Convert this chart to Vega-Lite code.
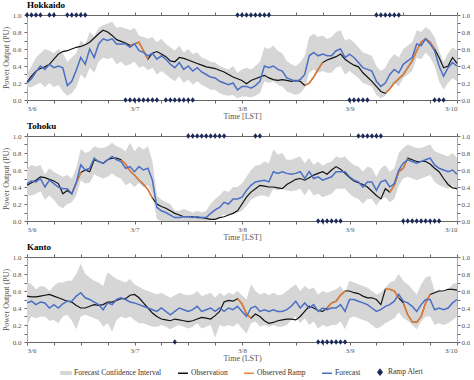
{
"$schema":"https://vega.github.io/schema/vega-lite/v6.json",
"padding":{"left":2,"right":0,"top":1,"bottom":0},
"datasets":{
"ts":[
{"r":"H","t":0,"o":0.21,"f":0.20,"l":0.15,"u":0.30},
{"r":"H","t":1,"o":0.28,"f":0.25,"l":0.15,"u":0.40},
{"r":"H","t":2,"o":0.34,"f":0.33,"l":0.18,"u":0.50},
{"r":"H","t":3,"o":0.37,"f":0.40,"l":0.20,"u":0.55},
{"r":"H","t":4,"o":0.39,"f":0.36,"l":0.15,"u":0.60},
{"r":"H","t":5,"o":0.42,"f":0.42,"l":0.20,"u":0.58},
{"r":"H","t":6,"o":0.48,"f":0.38,"l":0.15,"u":0.55},
{"r":"H","t":7,"o":0.54,"f":0.40,"l":0.18,"u":0.60},
{"r":"H","t":8,"o":0.57,"f":0.38,"l":0.10,"u":0.55},
{"r":"H","t":9,"o":0.58,"f":0.17,"l":0.05,"u":0.45},
{"r":"H","t":10,"o":0.60,"f":0.22,"l":0.08,"u":0.50},
{"r":"H","t":11,"o":0.62,"f":0.35,"l":0.15,"u":0.55},
{"r":"H","t":12,"o":0.63,"f":0.50,"l":0.30,"u":0.70},
{"r":"H","t":13,"o":0.65,"f":0.42,"l":0.25,"u":0.65},
{"r":"H","t":14,"o":0.68,"f":0.60,"l":0.38,"u":0.80},
{"r":"H","t":15,"o":0.73,"f":0.50,"l":0.32,"u":0.75},
{"r":"H","t":16,"o":0.78,"f":0.66,"l":0.45,"u":0.85},
{"r":"H","t":17,"o":0.82,"f":0.72,"l":0.50,"u":0.88},
{"r":"H","t":18,"o":0.80,"f":0.70,"l":0.48,"u":0.90},
{"r":"H","t":19,"o":0.76,"f":0.72,"l":0.50,"u":0.92},
{"r":"H","t":20,"o":0.71,"f":0.66,"l":0.42,"u":0.85},
{"r":"H","t":21,"o":0.69,"f":0.66,"l":0.45,"u":0.86},
{"r":"H","t":22,"o":0.67,"f":0.66,"l":0.40,"u":0.84},
{"r":"H","t":23,"o":0.64,"f":0.62,"l":0.42,"u":0.82,"g":"H1"},
{"r":"H","t":24,"o":0.66,"f":0.66,"l":0.45,"u":0.85,"g":"H1"},
{"r":"H","t":25,"o":0.68,"f":0.58,"l":0.38,"u":0.76,"g":"H1"},
{"r":"H","t":26,"o":0.58,"f":0.56,"l":0.40,"u":0.74,"g":"H1"},
{"r":"H","t":27,"o":0.48,"f":0.52,"l":0.35,"u":0.72,"g":"H1"},
{"r":"H","t":28,"o":0.55,"f":0.55,"l":0.38,"u":0.74},
{"r":"H","t":29,"o":0.57,"f":0.48,"l":0.30,"u":0.68},
{"r":"H","t":30,"o":0.54,"f":0.52,"l":0.34,"u":0.72},
{"r":"H","t":31,"o":0.51,"f":0.48,"l":0.30,"u":0.66},
{"r":"H","t":32,"o":0.46,"f":0.42,"l":0.26,"u":0.62},
{"r":"H","t":33,"o":0.45,"f":0.38,"l":0.22,"u":0.58},
{"r":"H","t":34,"o":0.50,"f":0.44,"l":0.28,"u":0.64},
{"r":"H","t":35,"o":0.49,"f":0.36,"l":0.20,"u":0.56},
{"r":"H","t":36,"o":0.47,"f":0.40,"l":0.24,"u":0.60},
{"r":"H","t":37,"o":0.45,"f":0.34,"l":0.18,"u":0.54},
{"r":"H","t":38,"o":0.43,"f":0.38,"l":0.22,"u":0.56},
{"r":"H","t":39,"o":0.41,"f":0.33,"l":0.18,"u":0.50},
{"r":"H","t":40,"o":0.39,"f":0.30,"l":0.15,"u":0.48},
{"r":"H","t":41,"o":0.38,"f":0.27,"l":0.12,"u":0.45},
{"r":"H","t":42,"o":0.37,"f":0.26,"l":0.12,"u":0.44},
{"r":"H","t":43,"o":0.35,"f":0.22,"l":0.08,"u":0.40},
{"r":"H","t":44,"o":0.33,"f":0.20,"l":0.06,"u":0.38},
{"r":"H","t":45,"o":0.30,"f":0.18,"l":0.05,"u":0.36},
{"r":"H","t":46,"o":0.27,"f":0.20,"l":0.06,"u":0.40},
{"r":"H","t":47,"o":0.25,"f":0.12,"l":0.02,"u":0.32},
{"r":"H","t":48,"o":0.23,"f":0.16,"l":0.04,"u":0.36},
{"r":"H","t":49,"o":0.19,"f":0.16,"l":0.04,"u":0.38},
{"r":"H","t":50,"o":0.23,"f":0.14,"l":0.03,"u":0.36},
{"r":"H","t":51,"o":0.25,"f":0.17,"l":0.05,"u":0.40},
{"r":"H","t":52,"o":0.27,"f":0.22,"l":0.08,"u":0.45},
{"r":"H","t":53,"o":0.29,"f":0.40,"l":0.22,"u":0.62},
{"r":"H","t":54,"o":0.26,"f":0.38,"l":0.20,"u":0.60},
{"r":"H","t":55,"o":0.24,"f":0.40,"l":0.22,"u":0.64},
{"r":"H","t":56,"o":0.23,"f":0.36,"l":0.18,"u":0.58},
{"r":"H","t":57,"o":0.24,"f":0.34,"l":0.16,"u":0.55},
{"r":"H","t":58,"o":0.23,"f":0.26,"l":0.10,"u":0.46},
{"r":"H","t":59,"o":0.22,"f":0.24,"l":0.08,"u":0.42},
{"r":"H","t":60,"o":0.23,"f":0.22,"l":0.06,"u":0.40},
{"r":"H","t":61,"o":0.22,"f":0.24,"l":0.08,"u":0.44},
{"r":"H","t":62,"o":0.17,"f":0.30,"l":0.14,"u":0.52,"g":"H2"},
{"r":"H","t":63,"o":0.20,"f":0.52,"l":0.32,"u":0.74,"g":"H2"},
{"r":"H","t":64,"o":0.27,"f":0.56,"l":0.36,"u":0.78,"g":"H2"},
{"r":"H","t":65,"o":0.36,"f":0.52,"l":0.32,"u":0.74,"g":"H2"},
{"r":"H","t":66,"o":0.44,"f":0.54,"l":0.34,"u":0.76,"g":"H2"},
{"r":"H","t":67,"o":0.47,"f":0.52,"l":0.32,"u":0.72},
{"r":"H","t":68,"o":0.49,"f":0.52,"l":0.32,"u":0.74},
{"r":"H","t":69,"o":0.51,"f":0.58,"l":0.38,"u":0.80},
{"r":"H","t":70,"o":0.54,"f":0.60,"l":0.40,"u":0.82},
{"r":"H","t":71,"o":0.48,"f":0.50,"l":0.30,"u":0.70},
{"r":"H","t":72,"o":0.44,"f":0.54,"l":0.34,"u":0.72},
{"r":"H","t":73,"o":0.41,"f":0.50,"l":0.30,"u":0.68},
{"r":"H","t":74,"o":0.39,"f":0.44,"l":0.26,"u":0.62},
{"r":"H","t":75,"o":0.32,"f":0.38,"l":0.20,"u":0.56},
{"r":"H","t":76,"o":0.27,"f":0.36,"l":0.18,"u":0.54},
{"r":"H","t":77,"o":0.22,"f":0.34,"l":0.16,"u":0.52},
{"r":"H","t":78,"o":0.16,"f":0.22,"l":0.06,"u":0.40},
{"r":"H","t":79,"o":0.10,"f":0.16,"l":0.02,"u":0.34},
{"r":"H","t":80,"o":0.08,"f":0.20,"l":0.05,"u":0.38,"g":"H3"},
{"r":"H","t":81,"o":0.13,"f":0.30,"l":0.14,"u":0.48,"g":"H3"},
{"r":"H","t":82,"o":0.20,"f":0.36,"l":0.20,"u":0.54,"g":"H3"},
{"r":"H","t":83,"o":0.25,"f":0.32,"l":0.16,"u":0.50,"g":"H3"},
{"r":"H","t":84,"o":0.30,"f":0.42,"l":0.26,"u":0.60,"g":"H3"},
{"r":"H","t":85,"o":0.38,"f":0.46,"l":0.30,"u":0.64,"g":"H3"},
{"r":"H","t":86,"o":0.46,"f":0.50,"l":0.34,"u":0.68,"g":"H3"},
{"r":"H","t":87,"o":0.58,"f":0.66,"l":0.50,"u":0.82,"g":"H3"},
{"r":"H","t":88,"o":0.68,"f":0.64,"l":0.48,"u":0.80,"g":"H3"},
{"r":"H","t":89,"o":0.72,"f":0.72,"l":0.56,"u":0.86,"g":"H3"},
{"r":"H","t":90,"o":0.68,"f":0.66,"l":0.50,"u":0.82,"g":"H3"},
{"r":"H","t":91,"o":0.60,"f":0.58,"l":0.40,"u":0.74,"g":"H3"},
{"r":"H","t":92,"o":0.50,"f":0.40,"l":0.22,"u":0.58},
{"r":"H","t":93,"o":0.38,"f":0.28,"l":0.12,"u":0.45},
{"r":"H","t":94,"o":0.40,"f":0.38,"l":0.20,"u":0.55},
{"r":"H","t":95,"o":0.50,"f":0.44,"l":0.26,"u":0.62},
{"r":"H","t":96,"o":0.43,"f":0.40,"l":0.22,"u":0.58},
{"r":"T","t":0,"o":0.42,"f":0.44,"l":0.30,"u":0.62},
{"r":"T","t":1,"o":0.45,"f":0.47,"l":0.30,"u":0.66},
{"r":"T","t":2,"o":0.48,"f":0.46,"l":0.32,"u":0.64},
{"r":"T","t":3,"o":0.52,"f":0.50,"l":0.35,"u":0.66},
{"r":"T","t":4,"o":0.51,"f":0.40,"l":0.25,"u":0.55},
{"r":"T","t":5,"o":0.49,"f":0.48,"l":0.30,"u":0.62},
{"r":"T","t":6,"o":0.47,"f":0.44,"l":0.25,"u":0.58},
{"r":"T","t":7,"o":0.44,"f":0.40,"l":0.18,"u":0.55},
{"r":"T","t":8,"o":0.32,"f":0.38,"l":0.15,"u":0.52},
{"r":"T","t":9,"o":0.36,"f":0.38,"l":0.20,"u":0.54},
{"r":"T","t":10,"o":0.32,"f":0.32,"l":0.22,"u":0.50,"g":"T1"},
{"r":"T","t":11,"o":0.45,"f":0.45,"l":0.30,"u":0.62,"g":"T1"},
{"r":"T","t":12,"o":0.57,"f":0.66,"l":0.48,"u":0.85,"g":"T1"},
{"r":"T","t":13,"o":0.60,"f":0.60,"l":0.44,"u":0.80},
{"r":"T","t":14,"o":0.58,"f":0.62,"l":0.45,"u":0.82},
{"r":"T","t":15,"o":0.72,"f":0.74,"l":0.55,"u":0.88},
{"r":"T","t":16,"o":0.70,"f":0.70,"l":0.52,"u":0.86},
{"r":"T","t":17,"o":0.68,"f":0.68,"l":0.50,"u":0.86},
{"r":"T","t":18,"o":0.72,"f":0.72,"l":0.52,"u":0.88},
{"r":"T","t":19,"o":0.74,"f":0.76,"l":0.56,"u":0.92},
{"r":"T","t":20,"o":0.74,"f":0.72,"l":0.52,"u":0.88},
{"r":"T","t":21,"o":0.72,"f":0.70,"l":0.50,"u":0.86,"g":"T2"},
{"r":"T","t":22,"o":0.67,"f":0.62,"l":0.42,"u":0.82,"g":"T2"},
{"r":"T","t":23,"o":0.59,"f":0.64,"l":0.45,"u":0.92,"g":"T2"},
{"r":"T","t":24,"o":0.54,"f":0.58,"l":0.40,"u":0.82,"g":"T2"},
{"r":"T","t":25,"o":0.48,"f":0.64,"l":0.45,"u":0.88,"g":"T2"},
{"r":"T","t":26,"o":0.43,"f":0.60,"l":0.40,"u":0.84,"g":"T2"},
{"r":"T","t":27,"o":0.37,"f":0.62,"l":0.42,"u":0.88,"g":"T2"},
{"r":"T","t":28,"o":0.27,"f":0.48,"l":0.32,"u":0.70,"g":"T2"},
{"r":"T","t":29,"o":0.20,"f":0.16,"l":0.02,"u":0.30},
{"r":"T","t":30,"o":0.17,"f":0.12,"l":0.00,"u":0.25},
{"r":"T","t":31,"o":0.15,"f":0.10,"l":0.00,"u":0.22},
{"r":"T","t":32,"o":0.12,"f":0.07,"l":0.00,"u":0.20},
{"r":"T","t":33,"o":0.09,"f":0.04,"l":0.00,"u":0.12},
{"r":"T","t":34,"o":0.07,"f":0.04,"l":0.00,"u":0.12},
{"r":"T","t":35,"o":0.05,"f":0.05,"l":0.00,"u":0.14},
{"r":"T","t":36,"o":0.05,"f":0.05,"l":0.00,"u":0.12},
{"r":"T","t":37,"o":0.05,"f":0.04,"l":0.00,"u":0.10},
{"r":"T","t":38,"o":0.04,"f":0.05,"l":0.00,"u":0.12},
{"r":"T","t":39,"o":0.04,"f":0.04,"l":0.00,"u":0.10},
{"r":"T","t":40,"o":0.03,"f":0.04,"l":0.00,"u":0.12},
{"r":"T","t":41,"o":0.02,"f":0.09,"l":0.01,"u":0.20},
{"r":"T","t":42,"o":0.02,"f":0.13,"l":0.03,"u":0.26},
{"r":"T","t":43,"o":0.04,"f":0.16,"l":0.05,"u":0.30},
{"r":"T","t":44,"o":0.05,"f":0.22,"l":0.08,"u":0.36},
{"r":"T","t":45,"o":0.07,"f":0.20,"l":0.06,"u":0.34},
{"r":"T","t":46,"o":0.09,"f":0.26,"l":0.10,"u":0.40},
{"r":"T","t":47,"o":0.12,"f":0.26,"l":0.10,"u":0.40},
{"r":"T","t":48,"o":0.20,"f":0.28,"l":0.12,"u":0.44},
{"r":"T","t":49,"o":0.28,"f":0.36,"l":0.18,"u":0.52},
{"r":"T","t":50,"o":0.34,"f":0.42,"l":0.25,"u":0.60},
{"r":"T","t":51,"o":0.38,"f":0.46,"l":0.28,"u":0.65},
{"r":"T","t":52,"o":0.42,"f":0.47,"l":0.30,"u":0.66},
{"r":"T","t":53,"o":0.41,"f":0.48,"l":0.30,"u":0.70},
{"r":"T","t":54,"o":0.40,"f":0.46,"l":0.28,"u":0.68},
{"r":"T","t":55,"o":0.40,"f":0.58,"l":0.38,"u":0.84},
{"r":"T","t":56,"o":0.39,"f":0.56,"l":0.36,"u":0.78},
{"r":"T","t":57,"o":0.38,"f":0.58,"l":0.38,"u":0.80},
{"r":"T","t":58,"o":0.43,"f":0.56,"l":0.36,"u":0.72},
{"r":"T","t":59,"o":0.46,"f":0.55,"l":0.35,"u":0.72},
{"r":"T","t":60,"o":0.49,"f":0.56,"l":0.36,"u":0.74},
{"r":"T","t":61,"o":0.50,"f":0.58,"l":0.38,"u":0.76},
{"r":"T","t":62,"o":0.48,"f":0.50,"l":0.30,"u":0.68},
{"r":"T","t":63,"o":0.51,"f":0.58,"l":0.38,"u":0.74},
{"r":"T","t":64,"o":0.54,"f":0.50,"l":0.30,"u":0.66},
{"r":"T","t":65,"o":0.56,"f":0.52,"l":0.32,"u":0.70},
{"r":"T","t":66,"o":0.58,"f":0.48,"l":0.28,"u":0.65},
{"r":"T","t":67,"o":0.55,"f":0.50,"l":0.30,"u":0.68},
{"r":"T","t":68,"o":0.60,"f":0.52,"l":0.32,"u":0.70},
{"r":"T","t":69,"o":0.64,"f":0.58,"l":0.38,"u":0.76},
{"r":"T","t":70,"o":0.61,"f":0.58,"l":0.38,"u":0.74},
{"r":"T","t":71,"o":0.56,"f":0.58,"l":0.38,"u":0.76},
{"r":"T","t":72,"o":0.51,"f":0.52,"l":0.32,"u":0.70},
{"r":"T","t":73,"o":0.47,"f":0.48,"l":0.28,"u":0.66},
{"r":"T","t":74,"o":0.45,"f":0.46,"l":0.26,"u":0.64},
{"r":"T","t":75,"o":0.43,"f":0.40,"l":0.20,"u":0.58},
{"r":"T","t":76,"o":0.40,"f":0.46,"l":0.26,"u":0.64},
{"r":"T","t":77,"o":0.35,"f":0.46,"l":0.26,"u":0.62},
{"r":"T","t":78,"o":0.30,"f":0.36,"l":0.18,"u":0.52},
{"r":"T","t":79,"o":0.26,"f":0.46,"l":0.26,"u":0.62},
{"r":"T","t":80,"o":0.38,"f":0.48,"l":0.28,"u":0.66},
{"r":"T","t":81,"o":0.34,"f":0.40,"l":0.22,"u":0.58,"g":"T3"},
{"r":"T","t":82,"o":0.42,"f":0.44,"l":0.26,"u":0.62,"g":"T3"},
{"r":"T","t":83,"o":0.58,"f":0.60,"l":0.42,"u":0.80,"g":"T3"},
{"r":"T","t":84,"o":0.62,"f":0.68,"l":0.50,"u":0.86,"g":"T3"},
{"r":"T","t":85,"o":0.74,"f":0.72,"l":0.52,"u":0.90,"g":"T3"},
{"r":"T","t":86,"o":0.72,"f":0.70,"l":0.50,"u":0.88},
{"r":"T","t":87,"o":0.70,"f":0.68,"l":0.48,"u":0.86},
{"r":"T","t":88,"o":0.70,"f":0.70,"l":0.50,"u":0.86},
{"r":"T","t":89,"o":0.70,"f":0.72,"l":0.52,"u":0.88},
{"r":"T","t":90,"o":0.67,"f":0.74,"l":0.54,"u":0.90},
{"r":"T","t":91,"o":0.62,"f":0.66,"l":0.46,"u":0.82},
{"r":"T","t":92,"o":0.58,"f":0.62,"l":0.42,"u":0.80},
{"r":"T","t":93,"o":0.50,"f":0.60,"l":0.40,"u":0.78},
{"r":"T","t":94,"o":0.43,"f":0.58,"l":0.38,"u":0.76},
{"r":"T","t":95,"o":0.39,"f":0.60,"l":0.42,"u":0.80},
{"r":"T","t":96,"o":0.38,"f":0.55,"l":0.36,"u":0.74},
{"r":"K","t":0,"o":0.54,"f":0.46,"l":0.20,"u":0.70},
{"r":"K","t":1,"o":0.53,"f":0.48,"l":0.30,"u":0.68},
{"r":"K","t":2,"o":0.53,"f":0.44,"l":0.28,"u":0.62},
{"r":"K","t":3,"o":0.54,"f":0.47,"l":0.30,"u":0.66},
{"r":"K","t":4,"o":0.55,"f":0.46,"l":0.30,"u":0.65},
{"r":"K","t":5,"o":0.56,"f":0.40,"l":0.25,"u":0.60},
{"r":"K","t":6,"o":0.54,"f":0.44,"l":0.26,"u":0.66},
{"r":"K","t":7,"o":0.52,"f":0.40,"l":0.22,"u":0.70},
{"r":"K","t":8,"o":0.50,"f":0.45,"l":0.30,"u":0.70},
{"r":"K","t":9,"o":0.48,"f":0.48,"l":0.32,"u":0.72},
{"r":"K","t":10,"o":0.47,"f":0.48,"l":0.25,"u":0.72},
{"r":"K","t":11,"o":0.43,"f":0.54,"l":0.15,"u":0.80},
{"r":"K","t":12,"o":0.40,"f":0.58,"l":0.30,"u":0.92},
{"r":"K","t":13,"o":0.40,"f":0.52,"l":0.32,"u":0.80},
{"r":"K","t":14,"o":0.42,"f":0.50,"l":0.30,"u":0.76},
{"r":"K","t":15,"o":0.44,"f":0.47,"l":0.28,"u":0.72},
{"r":"K","t":16,"o":0.43,"f":0.44,"l":0.26,"u":0.70},
{"r":"K","t":17,"o":0.44,"f":0.38,"l":0.18,"u":0.66},
{"r":"K","t":18,"o":0.47,"f":0.46,"l":0.22,"u":0.82},
{"r":"K","t":19,"o":0.47,"f":0.44,"l":0.12,"u":0.78},
{"r":"K","t":20,"o":0.49,"f":0.50,"l":0.26,"u":0.74},
{"r":"K","t":21,"o":0.51,"f":0.52,"l":0.30,"u":0.72},
{"r":"K","t":22,"o":0.51,"f":0.50,"l":0.28,"u":0.70},
{"r":"K","t":23,"o":0.55,"f":0.47,"l":0.30,"u":0.74},
{"r":"K","t":24,"o":0.56,"f":0.46,"l":0.26,"u":0.68},
{"r":"K","t":25,"o":0.52,"f":0.44,"l":0.22,"u":0.65},
{"r":"K","t":26,"o":0.46,"f":0.42,"l":0.22,"u":0.62},
{"r":"K","t":27,"o":0.40,"f":0.40,"l":0.20,"u":0.60},
{"r":"K","t":28,"o":0.34,"f":0.38,"l":0.18,"u":0.58},
{"r":"K","t":29,"o":0.30,"f":0.36,"l":0.18,"u":0.56},
{"r":"K","t":30,"o":0.27,"f":0.40,"l":0.20,"u":0.58},
{"r":"K","t":31,"o":0.26,"f":0.36,"l":0.18,"u":0.55},
{"r":"K","t":32,"o":0.25,"f":0.32,"l":0.15,"u":0.52},
{"r":"K","t":33,"o":0.27,"f":0.36,"l":0.18,"u":0.55},
{"r":"K","t":34,"o":0.26,"f":0.40,"l":0.20,"u":0.58},
{"r":"K","t":35,"o":0.25,"f":0.38,"l":0.18,"u":0.56},
{"r":"K","t":36,"o":0.24,"f":0.36,"l":0.16,"u":0.55},
{"r":"K","t":37,"o":0.25,"f":0.38,"l":0.18,"u":0.56},
{"r":"K","t":38,"o":0.27,"f":0.42,"l":0.22,"u":0.60},
{"r":"K","t":39,"o":0.29,"f":0.36,"l":0.16,"u":0.54},
{"r":"K","t":40,"o":0.28,"f":0.38,"l":0.18,"u":0.56},
{"r":"K","t":41,"o":0.27,"f":0.40,"l":0.20,"u":0.58},
{"r":"K","t":42,"o":0.31,"f":0.36,"l":0.05,"u":0.52},
{"r":"K","t":43,"o":0.36,"f":0.40,"l":0.20,"u":0.58},
{"r":"K","t":44,"o":0.47,"f":0.36,"l":0.18,"u":0.54},
{"r":"K","t":45,"o":0.49,"f":0.40,"l":0.20,"u":0.58},
{"r":"K","t":46,"o":0.48,"f":0.38,"l":0.18,"u":0.56},
{"r":"K","t":47,"o":0.51,"f":0.42,"l":0.22,"u":0.60,"g":"K1"},
{"r":"K","t":48,"o":0.45,"f":0.36,"l":0.16,"u":0.55,"g":"K1"},
{"r":"K","t":49,"o":0.33,"f":0.30,"l":0.10,"u":0.50,"g":"K1"},
{"r":"K","t":50,"o":0.28,"f":0.40,"l":0.22,"u":0.68,"g":"K1"},
{"r":"K","t":51,"o":0.33,"f":0.42,"l":0.24,"u":0.60},
{"r":"K","t":52,"o":0.30,"f":0.36,"l":0.18,"u":0.56},
{"r":"K","t":53,"o":0.25,"f":0.38,"l":0.20,"u":0.58},
{"r":"K","t":54,"o":0.22,"f":0.36,"l":0.18,"u":0.55},
{"r":"K","t":55,"o":0.23,"f":0.38,"l":0.20,"u":0.58},
{"r":"K","t":56,"o":0.25,"f":0.36,"l":0.18,"u":0.55},
{"r":"K","t":57,"o":0.26,"f":0.36,"l":0.18,"u":0.56},
{"r":"K","t":58,"o":0.27,"f":0.38,"l":0.20,"u":0.60},
{"r":"K","t":59,"o":0.27,"f":0.42,"l":0.26,"u":0.64},
{"r":"K","t":60,"o":0.26,"f":0.48,"l":0.30,"u":0.68},
{"r":"K","t":61,"o":0.30,"f":0.40,"l":0.22,"u":0.60},
{"r":"K","t":62,"o":0.36,"f":0.46,"l":0.28,"u":0.66},
{"r":"K","t":63,"o":0.42,"f":0.40,"l":0.20,"u":0.62},
{"r":"K","t":64,"o":0.40,"f":0.44,"l":0.24,"u":0.64},
{"r":"K","t":65,"o":0.37,"f":0.36,"l":0.16,"u":0.56},
{"r":"K","t":66,"o":0.36,"f":0.40,"l":0.20,"u":0.60},
{"r":"K","t":67,"o":0.40,"f":0.38,"l":0.18,"u":0.58,"g":"K2"},
{"r":"K","t":68,"o":0.46,"f":0.40,"l":0.20,"u":0.60,"g":"K2"},
{"r":"K","t":69,"o":0.48,"f":0.40,"l":0.20,"u":0.62,"g":"K2"},
{"r":"K","t":70,"o":0.55,"f":0.44,"l":0.24,"u":0.66,"g":"K2"},
{"r":"K","t":71,"o":0.60,"f":0.36,"l":0.15,"u":0.58,"g":"K2"},
{"r":"K","t":72,"o":0.60,"f":0.50,"l":0.28,"u":0.72},
{"r":"K","t":73,"o":0.58,"f":0.50,"l":0.30,"u":0.70},
{"r":"K","t":74,"o":0.57,"f":0.48,"l":0.28,"u":0.68},
{"r":"K","t":75,"o":0.54,"f":0.46,"l":0.26,"u":0.66},
{"r":"K","t":76,"o":0.52,"f":0.44,"l":0.24,"u":0.64},
{"r":"K","t":77,"o":0.52,"f":0.40,"l":0.20,"u":0.60},
{"r":"K","t":78,"o":0.50,"f":0.36,"l":0.16,"u":0.56},
{"r":"K","t":79,"o":0.44,"f":0.38,"l":0.18,"u":0.58},
{"r":"K","t":80,"o":0.62,"f":0.42,"l":0.22,"u":0.64,"g":"K3"},
{"r":"K","t":81,"o":0.62,"f":0.44,"l":0.25,"u":0.70,"g":"K3"},
{"r":"K","t":82,"o":0.60,"f":0.48,"l":0.28,"u":0.72,"g":"K3"},
{"r":"K","t":83,"o":0.52,"f":0.56,"l":0.35,"u":0.80,"g":"K3"},
{"r":"K","t":84,"o":0.46,"f":0.48,"l":0.28,"u":0.72,"g":"K4"},
{"r":"K","t":85,"o":0.32,"f":0.46,"l":0.25,"u":0.68,"g":"K4"},
{"r":"K","t":86,"o":0.24,"f":0.42,"l":0.20,"u":0.62,"g":"K4"},
{"r":"K","t":87,"o":0.23,"f":0.36,"l":0.15,"u":0.56,"g":"K4"},
{"r":"K","t":88,"o":0.30,"f":0.44,"l":0.24,"u":0.68,"g":"K4"},
{"r":"K","t":89,"o":0.46,"f":0.50,"l":0.30,"u":0.76,"g":"K4"},
{"r":"K","t":90,"o":0.56,"f":0.50,"l":0.30,"u":0.78,"g":"K4"},
{"r":"K","t":91,"o":0.58,"f":0.38,"l":0.20,"u":0.60},
{"r":"K","t":92,"o":0.60,"f":0.40,"l":0.22,"u":0.62},
{"r":"K","t":93,"o":0.60,"f":0.38,"l":0.20,"u":0.58},
{"r":"K","t":94,"o":0.62,"f":0.40,"l":0.22,"u":0.62},
{"r":"K","t":95,"o":0.62,"f":0.46,"l":0.26,"u":0.68},
{"r":"K","t":96,"o":0.61,"f":0.50,"l":0.30,"u":0.70}
],
"al":[
{"r":"H","t":0,"y":1},{"r":"H","t":1,"y":1},{"r":"H","t":2,"y":1},{"r":"H","t":3,"y":1},
{"r":"H","t":5,"y":1},{"r":"H","t":6,"y":1},
{"r":"H","t":9,"y":1},{"r":"H","t":10,"y":1},{"r":"H","t":11,"y":1},{"r":"H","t":12,"y":1},{"r":"H","t":13,"y":1},
{"r":"H","t":47,"y":1},{"r":"H","t":48,"y":1},{"r":"H","t":49,"y":1},{"r":"H","t":50,"y":1},{"r":"H","t":51,"y":1},{"r":"H","t":52,"y":1},{"r":"H","t":53,"y":1},{"r":"H","t":54,"y":1},
{"r":"H","t":78,"y":1},{"r":"H","t":79,"y":1},{"r":"H","t":80,"y":1},{"r":"H","t":81,"y":1},{"r":"H","t":82,"y":1},{"r":"H","t":83,"y":1},
{"r":"H","t":22,"y":0},{"r":"H","t":23,"y":0},{"r":"H","t":24,"y":0},{"r":"H","t":25,"y":0},{"r":"H","t":26,"y":0},{"r":"H","t":27,"y":0},{"r":"H","t":28,"y":0},{"r":"H","t":29,"y":0},
{"r":"H","t":31,"y":0},{"r":"H","t":32,"y":0},{"r":"H","t":33,"y":0},{"r":"H","t":34,"y":0},{"r":"H","t":35,"y":0},{"r":"H","t":36,"y":0},{"r":"H","t":37,"y":0},
{"r":"H","t":72,"y":0},{"r":"H","t":73,"y":0},{"r":"H","t":74,"y":0},{"r":"H","t":75,"y":0},{"r":"H","t":76,"y":0},
{"r":"H","t":91,"y":0},{"r":"H","t":92,"y":0},{"r":"H","t":93,"y":0},
{"r":"T","t":36,"y":1},{"r":"T","t":37,"y":1},{"r":"T","t":38,"y":1},{"r":"T","t":39,"y":1},{"r":"T","t":40,"y":1},{"r":"T","t":41,"y":1},{"r":"T","t":42,"y":1},{"r":"T","t":43,"y":1},{"r":"T","t":44,"y":1},
{"r":"T","t":51,"y":1},{"r":"T","t":52,"y":1},
{"r":"T","t":74,"y":1},{"r":"T","t":75,"y":1},{"r":"T","t":76,"y":1},{"r":"T","t":77,"y":1},{"r":"T","t":78,"y":1},{"r":"T","t":79,"y":1},
{"r":"T","t":65,"y":0},{"r":"T","t":66,"y":0},{"r":"T","t":67,"y":0},{"r":"T","t":68,"y":0},{"r":"T","t":69,"y":0},{"r":"T","t":70,"y":0},
{"r":"T","t":84,"y":0},{"r":"T","t":85,"y":0},{"r":"T","t":86,"y":0},{"r":"T","t":87,"y":0},{"r":"T","t":88,"y":0},{"r":"T","t":89,"y":0},{"r":"T","t":90,"y":0},{"r":"T","t":91,"y":0},{"r":"T","t":92,"y":0},
{"r":"K","t":33,"y":0},
{"r":"K","t":65,"y":0},{"r":"K","t":66,"y":0},{"r":"K","t":67,"y":0},{"r":"K","t":68,"y":0},{"r":"K","t":69,"y":0},{"r":"K","t":70,"y":0},{"r":"K","t":71,"y":0}
]
},
"vconcat":[
{"width":430,"height":85,"title":{"text":"Hokkaido"},
 "layer":[
  {"data":{"name":"ts"},"transform":[{"filter":"datum.r==='H'"}],"mark":{"type":"area"},
   "encoding":{
    "x":{"field":"t","type":"quantitative","scale":{"domain":[0,96],"nice":false},"axis":{"orient":"bottom","values":[0,6,12,18,24,30,36,42,48,54,60,66,72,78,84,90,96],"labelExpr":"datum.value % 24 === 0 ? '3/' + (6 + datum.value/24) : ''","title":"Time [LST]"}},
    "y":{"field":"l","type":"quantitative","scale":{"domain":[0,1],"nice":false},"axis":{"orient":"left","values":[0,0.1,0.2,0.3,0.4,0.5,0.6,0.7,0.8,0.9,1],"labelExpr":"round(datum.value*10) % 2 === 0 ? format(datum.value, '.1f') : ''","title":"Power Output (PU)"}},
    "y2":{"field":"u"},
    "color":{"datum":"Forecast Confidence Interval","scale":{"domain":["Forecast Confidence Interval","Observation","Observed Ramp","Forecast","Ramp Alert"],"range":["#d6d6d6","#111111","#e8823a","#4a6fc4","#1c2a5a"]}}}},
  {"data":{"name":"ts"},"transform":[{"filter":"datum.r==='H'"}],"mark":{"type":"line","strokeWidth":1.2},
   "encoding":{
    "x":{"field":"t","type":"quantitative","axis":{"orient":"top","values":[0,6,12,18,24,30,36,42,48,54,60,66,72,78,84,90,96],"labels":false,"title":null}},
    "y":{"field":"o","type":"quantitative","axis":{"orient":"right","values":[0,0.1,0.2,0.3,0.4,0.5,0.6,0.7,0.8,0.9,1],"labelExpr":"round(datum.value*10) % 2 === 0 ? format(datum.value, '.1f') : ''","title":null,"labelPadding":1}},
    "color":{"datum":"Observation"}}},
  {"data":{"name":"ts"},"transform":[{"filter":"datum.r==='H' && isValid(datum.g)"}],"mark":{"type":"line","strokeWidth":1.5},
   "encoding":{
    "x":{"field":"t","type":"quantitative","axis":null},
    "y":{"field":"o","type":"quantitative","axis":null},
    "detail":{"field":"g"},
    "color":{"datum":"Observed Ramp"}}},
  {"data":{"name":"ts"},"transform":[{"filter":"datum.r==='H'"}],"mark":{"type":"line","strokeWidth":1.5},
   "encoding":{
    "x":{"field":"t","type":"quantitative","axis":null},
    "y":{"field":"f","type":"quantitative","axis":null},
    "color":{"datum":"Forecast"}}},
  {"data":{"name":"al"},"transform":[{"filter":"datum.r==='H'"}],"mark":{"type":"point","filled":true,"opacity":1,"size":100},
   "encoding":{
    "x":{"field":"t","type":"quantitative","axis":null},
    "y":{"field":"y","type":"quantitative","axis":null},
    "color":{"datum":"Ramp Alert"},
    "shape":{"datum":"Ramp Alert","scale":{"domain":["Forecast Confidence Interval","Observation","Observed Ramp","Forecast","Ramp Alert"],"range":["M-1,-0.25H1V0.25H-1Z","stroke","stroke","stroke","M0,-0.55L0.42,0L0,0.55L-0.42,0Z"]}}}}
 ]},
{"width":430,"height":85,"title":{"text":"Tohoku"},
 "layer":[
  {"data":{"name":"ts"},"transform":[{"filter":"datum.r==='T'"}],"mark":{"type":"area"},
   "encoding":{
    "x":{"field":"t","type":"quantitative","scale":{"domain":[0,96],"nice":false},"axis":{"orient":"bottom","values":[0,6,12,18,24,30,36,42,48,54,60,66,72,78,84,90,96],"labelExpr":"datum.value % 24 === 0 ? '3/' + (6 + datum.value/24) : ''","title":"Time [LST]"}},
    "y":{"field":"l","type":"quantitative","scale":{"domain":[0,1],"nice":false},"axis":{"orient":"left","values":[0,0.1,0.2,0.3,0.4,0.5,0.6,0.7,0.8,0.9,1],"labelExpr":"round(datum.value*10) % 2 === 0 ? format(datum.value, '.1f') : ''","title":"Power Output (PU)"}},
    "y2":{"field":"u"},
    "color":{"datum":"Forecast Confidence Interval"}}},
  {"data":{"name":"ts"},"transform":[{"filter":"datum.r==='T'"}],"mark":{"type":"line","strokeWidth":1.2},
   "encoding":{
    "x":{"field":"t","type":"quantitative","axis":{"orient":"top","values":[0,6,12,18,24,30,36,42,48,54,60,66,72,78,84,90,96],"labels":false,"title":null}},
    "y":{"field":"o","type":"quantitative","axis":{"orient":"right","values":[0,0.1,0.2,0.3,0.4,0.5,0.6,0.7,0.8,0.9,1],"labelExpr":"round(datum.value*10) % 2 === 0 ? format(datum.value, '.1f') : ''","title":null,"labelPadding":1}},
    "color":{"datum":"Observation"}}},
  {"data":{"name":"ts"},"transform":[{"filter":"datum.r==='T' && isValid(datum.g)"}],"mark":{"type":"line","strokeWidth":1.5},
   "encoding":{
    "x":{"field":"t","type":"quantitative","axis":null},
    "y":{"field":"o","type":"quantitative","axis":null},
    "detail":{"field":"g"},
    "color":{"datum":"Observed Ramp"}}},
  {"data":{"name":"ts"},"transform":[{"filter":"datum.r==='T'"}],"mark":{"type":"line","strokeWidth":1.5},
   "encoding":{
    "x":{"field":"t","type":"quantitative","axis":null},
    "y":{"field":"f","type":"quantitative","axis":null},
    "color":{"datum":"Forecast"}}},
  {"data":{"name":"al"},"transform":[{"filter":"datum.r==='T'"}],"mark":{"type":"point","filled":true,"opacity":1,"size":100},
   "encoding":{
    "x":{"field":"t","type":"quantitative","axis":null},
    "y":{"field":"y","type":"quantitative","axis":null},
    "color":{"datum":"Ramp Alert"},
    "shape":{"datum":"Ramp Alert"}}}
 ]},
{"width":430,"height":85,"title":{"text":"Kanto"},
 "layer":[
  {"data":{"name":"ts"},"transform":[{"filter":"datum.r==='K'"}],"mark":{"type":"area"},
   "encoding":{
    "x":{"field":"t","type":"quantitative","scale":{"domain":[0,96],"nice":false},"axis":{"orient":"bottom","values":[0,6,12,18,24,30,36,42,48,54,60,66,72,78,84,90,96],"labelExpr":"datum.value % 24 === 0 ? '3/' + (6 + datum.value/24) : ''","title":"Time (LST)"}},
    "y":{"field":"l","type":"quantitative","scale":{"domain":[0,1],"nice":false},"axis":{"orient":"left","values":[0,0.1,0.2,0.3,0.4,0.5,0.6,0.7,0.8,0.9,1],"labelExpr":"round(datum.value*10) % 2 === 0 ? format(datum.value, '.1f') : ''","title":"Power Output (PU)"}},
    "y2":{"field":"u"},
    "color":{"datum":"Forecast Confidence Interval"}}},
  {"data":{"name":"ts"},"transform":[{"filter":"datum.r==='K'"}],"mark":{"type":"line","strokeWidth":1.2},
   "encoding":{
    "x":{"field":"t","type":"quantitative","axis":{"orient":"top","values":[0,6,12,18,24,30,36,42,48,54,60,66,72,78,84,90,96],"labels":false,"title":null}},
    "y":{"field":"o","type":"quantitative","axis":{"orient":"right","values":[0,0.1,0.2,0.3,0.4,0.5,0.6,0.7,0.8,0.9,1],"labelExpr":"round(datum.value*10) % 2 === 0 ? format(datum.value, '.1f') : ''","title":null,"labelPadding":1}},
    "color":{"datum":"Observation"}}},
  {"data":{"name":"ts"},"transform":[{"filter":"datum.r==='K' && isValid(datum.g)"}],"mark":{"type":"line","strokeWidth":1.5},
   "encoding":{
    "x":{"field":"t","type":"quantitative","axis":null},
    "y":{"field":"o","type":"quantitative","axis":null},
    "detail":{"field":"g"},
    "color":{"datum":"Observed Ramp"}}},
  {"data":{"name":"ts"},"transform":[{"filter":"datum.r==='K'"}],"mark":{"type":"line","strokeWidth":1.5},
   "encoding":{
    "x":{"field":"t","type":"quantitative","axis":null},
    "y":{"field":"f","type":"quantitative","axis":null},
    "color":{"datum":"Forecast"}}},
  {"data":{"name":"al"},"transform":[{"filter":"datum.r==='K'"}],"mark":{"type":"point","filled":true,"opacity":1,"size":100},
   "encoding":{
    "x":{"field":"t","type":"quantitative","axis":null},
    "y":{"field":"y","type":"quantitative","axis":null},
    "color":{"datum":"Ramp Alert"},
    "shape":{"datum":"Ramp Alert"}}}
 ]}
],
"spacing":2,
"resolve":{"scale":{"color":"shared","shape":"shared"}},
"config":{
 "font":"Liberation Serif",
 "view":{"stroke":null},
 "axis":{"labelFont":"Liberation Serif","labelFontSize":7,"labelColor":"#555555","titleFont":"Liberation Serif","titleFontSize":8,"titleFontWeight":"normal","titleColor":"#555555","tickColor":"#666666","domainColor":"#666666","grid":false,"tickSize":3,"labelPadding":1,"titlePadding":1},
 "axisY":{"domainColor":"#aaaaaa","titlePadding":2,"labelPadding":3},
 "title":{"font":"Liberation Serif","fontSize":9,"fontWeight":"bold","anchor":"start","frame":"group","color":"#000000","offset":1},
 "legend":{"orient":"bottom","direction":"horizontal","title":null,"labelFont":"Liberation Serif","labelFontSize":7.5,"labelColor":"#333333","labelOffset":2,"columnPadding":13,"padding":0,"offset":4,"symbolSize":100,"symbolStrokeWidth":1.5,"layout":{"bottom":{"anchor":"middle"}}}
}
}
